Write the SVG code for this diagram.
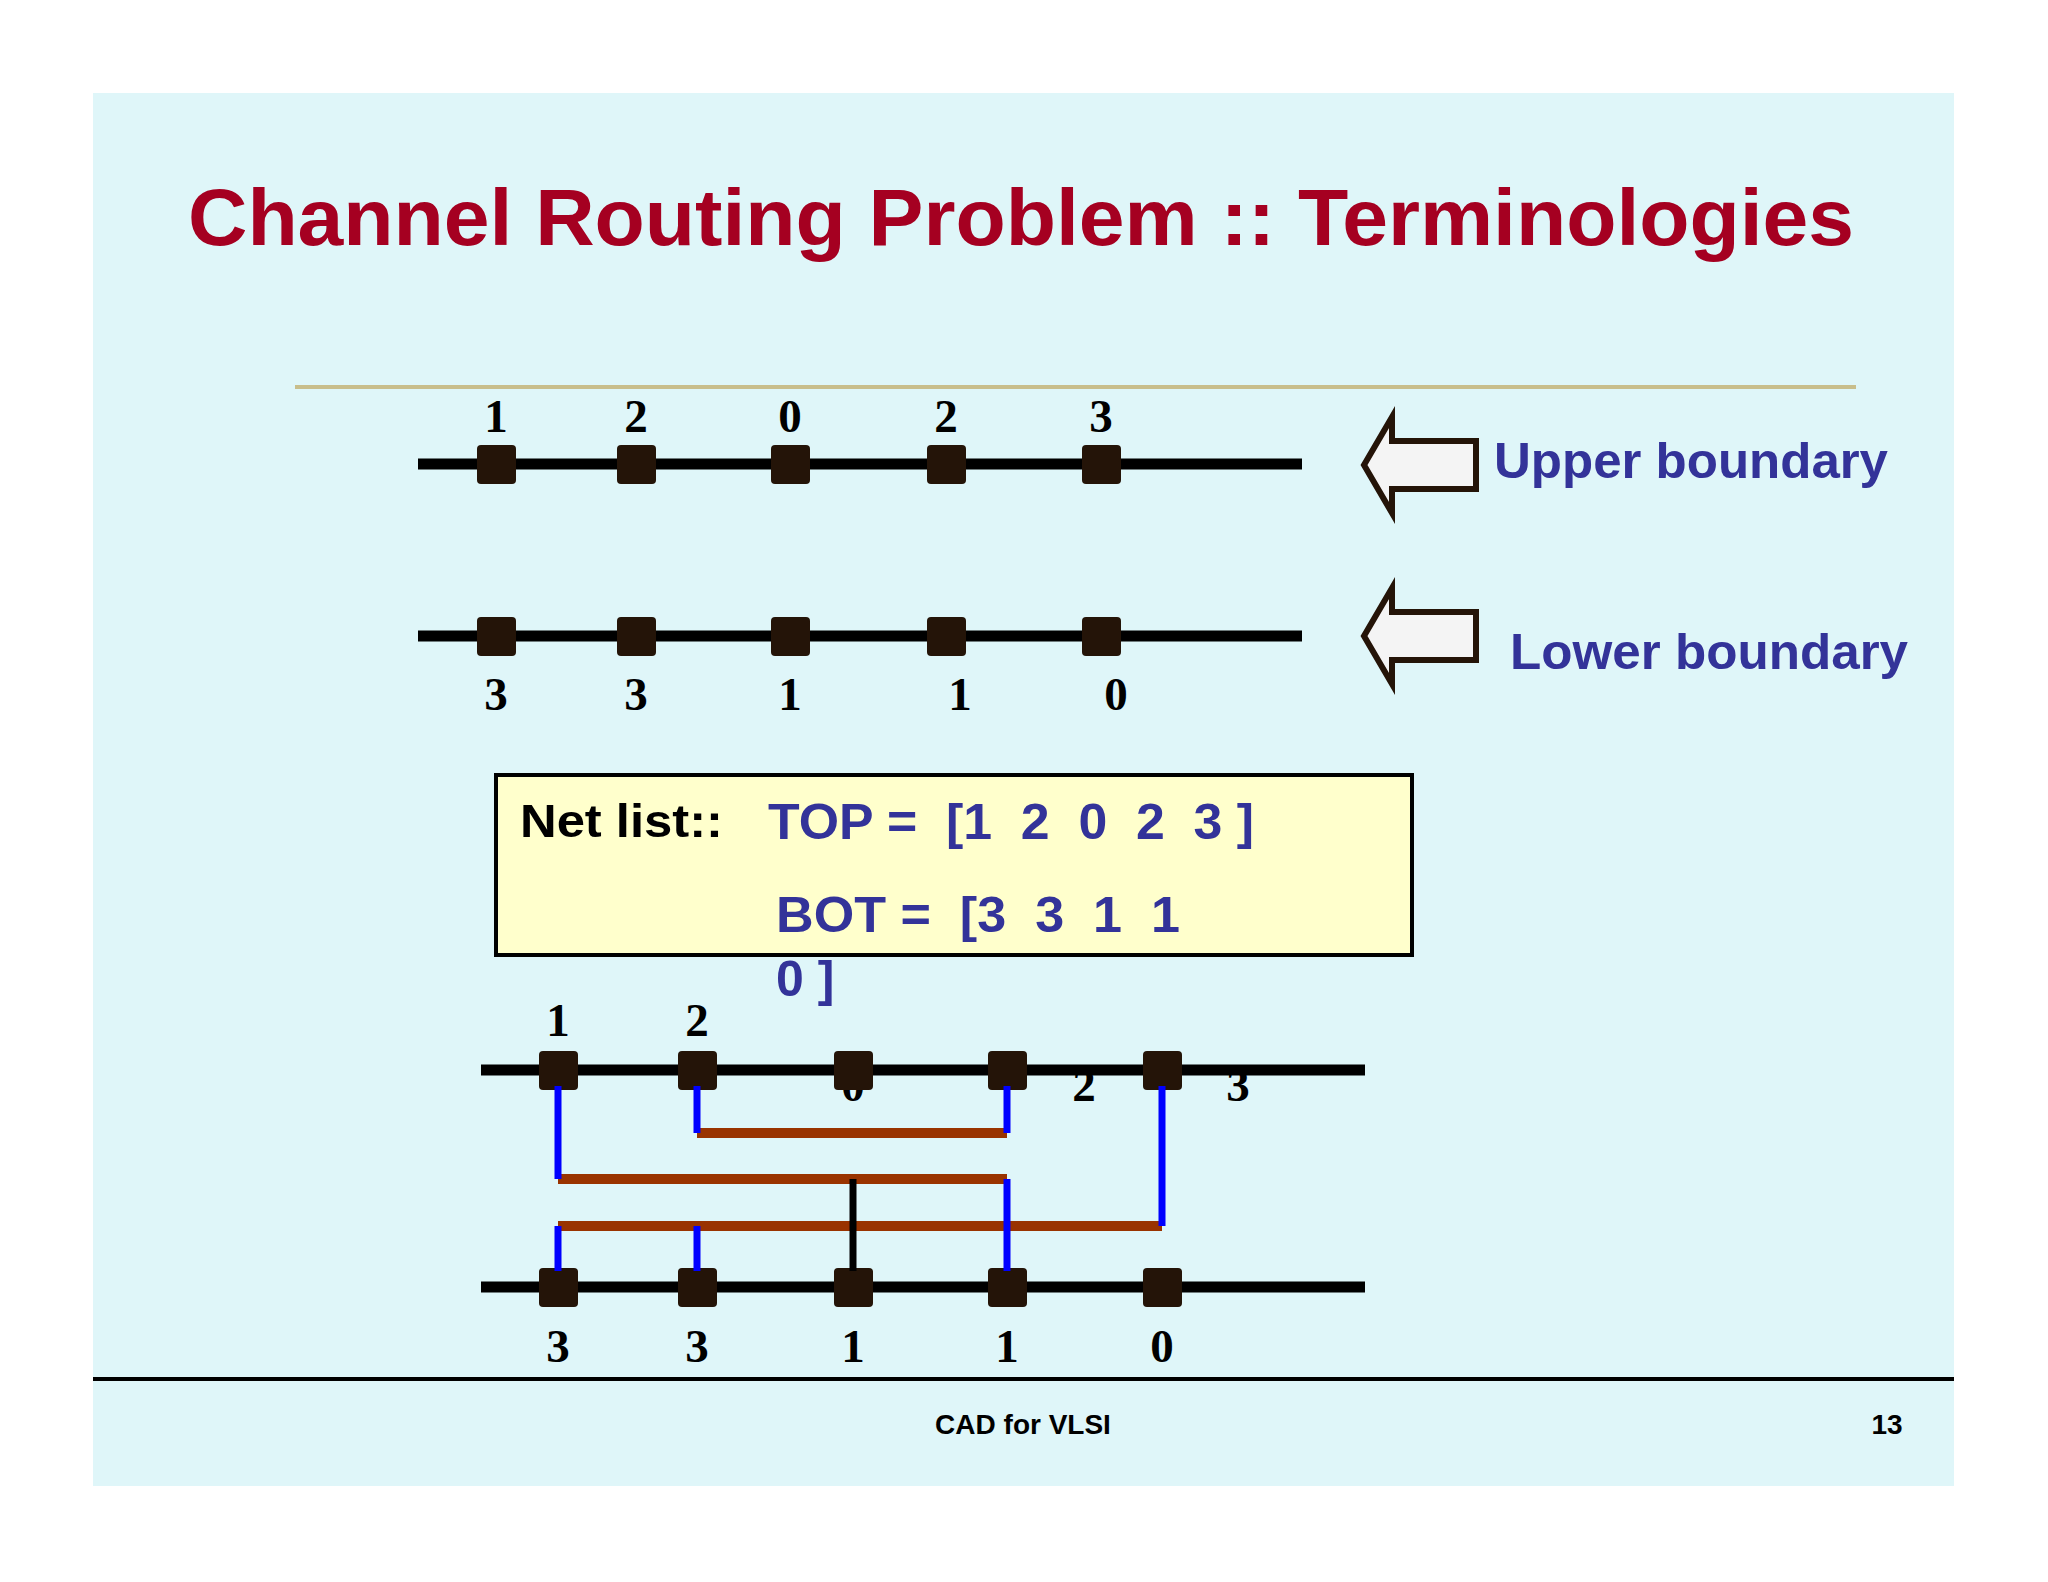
<svg xmlns="http://www.w3.org/2000/svg" width="2048" height="1582" viewBox="0 0 2048 1582">
<style>
.num{font-family:"Liberation Serif",serif;font-weight:bold;font-size:47px;fill:#000;text-anchor:middle}
.blue{font-family:"Liberation Sans",Arial,sans-serif;font-weight:bold;font-size:50px;fill:#333399}
.rail{stroke:#000;stroke-width:11}
.pin{fill:#241408}
.v{stroke:#0000ff;stroke-width:7}
.trk{stroke:#993300;stroke-width:10}
.arr{fill:#f4f4f4;stroke:#241408;stroke-width:6;stroke-linejoin:miter}
</style>
<rect width="2048" height="1582" fill="#fff"/>
<rect x="93" y="93" width="1861" height="1393" fill="#dff6f9"/>
<text x="1021" y="245" text-anchor="middle" font-family="Liberation Sans,Arial,sans-serif" font-weight="bold" font-size="80" fill="#a50021" textLength="1666" lengthAdjust="spacingAndGlyphs">Channel Routing Problem :: Terminologies</text>
<line x1="295" y1="387" x2="1856" y2="387" stroke="#c8be8c" stroke-width="4"/>
<g id="upper-boundary">
<line class="rail" x1="418" y1="464" x2="1302" y2="464"/>
<rect class="pin" x="477" y="445" width="39" height="39" rx="4"/><rect class="pin" x="617" y="445" width="39" height="39" rx="4"/><rect class="pin" x="771" y="445" width="39" height="39" rx="4"/><rect class="pin" x="927" y="445" width="39" height="39" rx="4"/><rect class="pin" x="1082" y="445" width="39" height="39" rx="4"/>
<text class="num" x="496" y="432">1</text><text class="num" x="636" y="432">2</text><text class="num" x="790" y="432">0</text><text class="num" x="946" y="432">2</text><text class="num" x="1101" y="432">3</text>
</g>
<g id="lower-boundary">
<line class="rail" x1="418" y1="636" x2="1302" y2="636"/>
<rect class="pin" x="477" y="617" width="39" height="39" rx="4"/><rect class="pin" x="617" y="617" width="39" height="39" rx="4"/><rect class="pin" x="771" y="617" width="39" height="39" rx="4"/><rect class="pin" x="927" y="617" width="39" height="39" rx="4"/><rect class="pin" x="1082" y="617" width="39" height="39" rx="4"/>
<text class="num" x="496" y="710">3</text><text class="num" x="636" y="710">3</text><text class="num" x="790" y="710">1</text><text class="num" x="960" y="710">1</text><text class="num" x="1116" y="710">0</text>
</g>
<g id="upper-arrow">
<polygon class="arr" points="1392,417 1392,441 1476,441 1476,489 1392,489 1392,513 1364,465"/>
<text class="blue" x="1494" y="478" textLength="394" lengthAdjust="spacingAndGlyphs">Upper boundary</text>
</g>
<g id="lower-arrow">
<polygon class="arr" points="1392,588 1392,612 1476,612 1476,660 1392,660 1392,684 1364,636"/>
<text class="blue" x="1510" y="669" textLength="398" lengthAdjust="spacingAndGlyphs">Lower boundary</text>
</g>
<g id="netlist">
<rect x="496" y="775" width="916" height="180" fill="#ffffcc" stroke="#000" stroke-width="4"/>
<text x="520" y="837" font-family="Liberation Sans,Arial,sans-serif" font-weight="bold" font-size="47" fill="#000" textLength="203" lengthAdjust="spacingAndGlyphs">Net list::</text>
<text class="blue" x="768" y="839" xml:space="preserve" textLength="486" lengthAdjust="spacingAndGlyphs">TOP =  [1  2  0  2  3 ]</text>
<text class="blue" x="776" y="932" xml:space="preserve" textLength="404" lengthAdjust="spacingAndGlyphs">BOT =  [3  3  1  1</text>
<text class="blue" x="776" y="996">0 ]</text>
</g>
<g id="routed-channel">
<text class="num" x="853" y="1101">0</text><text class="num" x="1084" y="1101">2</text><text class="num" x="1238" y="1101">3</text>
<line class="rail" x1="481" y1="1070" x2="1365" y2="1070"/>
<line class="rail" x1="481" y1="1287" x2="1365" y2="1287"/>
<rect class="pin" x="539" y="1051" width="39" height="39" rx="4"/><rect class="pin" x="678" y="1051" width="39" height="39" rx="4"/><rect class="pin" x="834" y="1051" width="39" height="39" rx="4"/><rect class="pin" x="988" y="1051" width="39" height="39" rx="4"/><rect class="pin" x="1143" y="1051" width="39" height="39" rx="4"/>
<rect class="pin" x="539" y="1268" width="39" height="39" rx="4"/><rect class="pin" x="678" y="1268" width="39" height="39" rx="4"/><rect class="pin" x="834" y="1268" width="39" height="39" rx="4"/><rect class="pin" x="988" y="1268" width="39" height="39" rx="4"/><rect class="pin" x="1143" y="1268" width="39" height="39" rx="4"/>
<text class="num" x="558" y="1036">1</text><text class="num" x="697" y="1036">2</text>
<text class="num" x="558" y="1362">3</text><text class="num" x="697" y="1362">3</text><text class="num" x="853" y="1362">1</text><text class="num" x="1007" y="1362">1</text><text class="num" x="1162" y="1362">0</text>
</g>
<g id="connectors">
<line class="trk" x1="697" y1="1133" x2="1007" y2="1133"/>
<line class="trk" x1="558" y1="1179" x2="1007" y2="1179"/>
<line class="trk" x1="558" y1="1226" x2="1162" y2="1226"/>
<line class="v" x1="558" y1="1086" x2="558" y2="1179"/>
<line class="v" x1="697" y1="1086" x2="697" y2="1133"/>
<line class="v" x1="1007" y1="1086" x2="1007" y2="1133"/>
<line class="v" x1="1162" y1="1086" x2="1162" y2="1226"/>
<line class="v" x1="1007" y1="1179" x2="1007" y2="1271"/>
<line x1="853" y1="1179" x2="853" y2="1271" stroke="#000" stroke-width="7"/>
<line class="v" x1="558" y1="1226" x2="558" y2="1271"/>
<line class="v" x1="697" y1="1226" x2="697" y2="1271"/>
</g>
<line x1="93" y1="1379" x2="1954" y2="1379" stroke="#000" stroke-width="4"/>
<text x="1023" y="1434" text-anchor="middle" font-family="Liberation Sans,Arial,sans-serif" font-weight="bold" font-size="28">CAD for VLSI</text>
<text x="1887" y="1434" text-anchor="middle" font-family="Liberation Sans,Arial,sans-serif" font-weight="bold" font-size="28">13</text>
</svg>
